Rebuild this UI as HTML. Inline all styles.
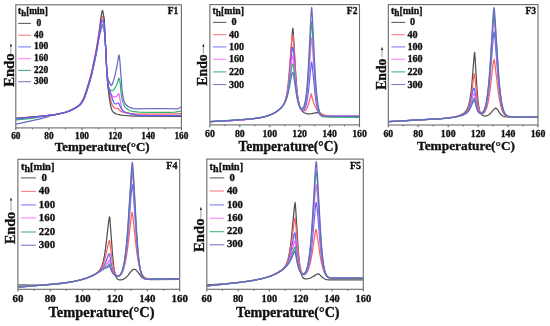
<!DOCTYPE html>
<html><head><meta charset="utf-8"><title>DSC curves F1-F5</title>
<style>html,body{margin:0;padding:0;background:#fff;width:550px;height:326px;overflow:hidden}
text{fill:#111;stroke:#111;stroke-width:0.34px}
svg{display:block}</style></head><body>
<svg width="550" height="326" viewBox="0 0 550 326">
<rect width="550" height="326" fill="#fff"/>
<clipPath id="cF1"><rect x="15.80" y="4.80" width="165.60" height="123.10"/></clipPath>
<g clip-path="url(#cF1)" fill="none" stroke-width="1.25" stroke-linejoin="round">
<path stroke="#6868c4" d="M16.1 124.23L39.10 119.03L42.85 118.07L48.60 116.30L51.60 115.48L55.60 114.55L62.85 113.06L66.35 112.13L70.10 110.75L72.10 109.85L74.35 108.68L76.60 107.40L78.35 106.25L79.60 105.31L80.60 104.33L81.60 103.07L82.85 101.09L84.10 98.72L84.85 97.00L87.10 90.29L90.60 78.81L92.35 71.98L94.35 62.87L96.85 50.30L98.35 41.08L99.10 37.36L101.35 28.29L101.85 26.91L102.35 26.23L102.60 26.26L102.85 26.56L103.35 27.56L103.60 28.43L104.35 31.87L104.85 35.27L105.10 37.90L105.60 46.17L106.35 64.04L106.60 68.11L107.35 75.05L107.85 77.93L108.35 80.03L109.10 81.92L110.85 85.09L111.35 85.50L111.60 85.40L112.10 84.52L113.10 81.88L114.60 76.81L115.35 73.87L117.10 65.46L118.60 56.23L118.85 55.21L119.10 55.12L119.35 56.28L119.85 60.64L121.85 87.71L122.10 90.62L122.60 94.71L123.35 98.71L124.10 101.29L125.10 103.46L125.60 104.20L126.60 105.35L127.85 106.41L129.60 107.28L133.10 108.40L134.35 108.68L135.35 108.79L158.35 108.50L177.10 108.90L177.85 108.78L178.60 108.52L181.10 107.16"/>
<path stroke="#34b270" d="M16.1 119.88L24.35 119.15L33.10 118.08L42.35 116.54L48.85 115.27L55.85 114.47L63.35 112.86L65.60 112.25L67.85 111.51L69.85 110.71L72.10 109.67L75.10 108.07L77.10 106.87L78.85 105.63L80.10 104.49L81.10 103.27L82.10 101.77L83.35 99.52L84.35 97.39L86.85 89.98L90.35 78.45L91.60 73.65L93.10 67.15L96.10 52.41L97.60 43.81L98.35 38.98L99.10 33.15L99.60 30.31L100.10 29.23L100.85 28.21L101.10 27.62L101.60 25.65L102.10 24.68L102.35 24.43L102.60 24.46L103.10 25.20L103.35 25.75L103.85 27.66L104.35 30.70L104.85 35.18L105.60 46.23L106.35 63.78L106.85 71.99L107.60 80.00L108.10 83.89L108.60 86.50L109.10 87.92L109.60 88.96L110.10 89.69L111.10 90.70L111.60 90.97L112.10 90.96L112.60 90.75L113.35 90.24L113.85 89.66L116.35 85.50L117.85 81.36L118.60 78.81L118.85 78.30L119.10 78.26L119.35 78.85L119.60 79.95L120.10 83.11L120.35 84.88L121.10 92.85L121.60 96.70L122.10 99.45L122.85 102.41L123.60 104.61L124.10 105.60L125.10 106.94L126.10 107.90L128.60 109.95L129.85 110.75L132.35 111.31L138.85 112.14L149.85 112.26L170.85 112.29L174.85 112.02L181.10 111.24"/>
<path stroke="#ff5eff" d="M16.1 118.48L36.60 116.72L45.35 115.82L54.60 114.61L61.85 113.13L64.35 112.51L66.85 111.74L68.85 110.99L71.35 109.87L74.10 108.43L76.60 106.97L78.60 105.55L79.85 104.39L80.85 103.14L82.10 101.18L83.35 98.82L84.10 97.13L86.85 88.86L89.10 81.57L90.35 77.17L91.60 72.19L92.85 66.69L95.85 51.89L97.10 44.75L98.85 32.81L99.35 30.00L99.85 28.23L100.85 25.48L101.60 22.74L102.10 21.78L102.35 21.53L102.60 21.56L102.85 21.86L103.35 22.84L103.60 23.65L104.10 26.37L104.35 28.83L105.10 38.43L105.60 46.44L106.60 66.80L107.35 79.72L107.60 82.68L108.10 85.81L109.10 89.51L110.10 92.30L111.35 94.85L111.85 95.55L112.60 96.24L113.10 96.56L113.60 96.72L115.10 96.89L115.85 96.83L116.35 96.54L117.35 95.63L118.35 93.85L118.60 93.62L118.85 93.72L119.35 95.50L120.85 104.21L121.60 107.89L122.10 109.61L122.85 110.71L123.35 111.24L124.10 111.84L124.85 112.24L126.10 112.68L135.85 114.85L138.85 115.33L144.60 115.51L181.10 116.09"/>
<path stroke="#ff6262" d="M16.1 118.48L36.85 116.70L45.60 115.79L54.60 114.61L62.10 113.07L64.85 112.37L67.35 111.56L69.60 110.67L71.85 109.62L74.85 108.01L76.85 106.80L78.85 105.35L80.10 104.10L81.10 102.78L82.10 101.18L83.35 98.82L84.10 97.13L86.10 91.23L88.35 84.04L90.85 75.26L93.10 65.52L96.10 50.57L97.35 43.18L100.10 25.02L100.85 20.60L101.60 17.63L102.10 16.68L102.35 16.43L102.60 16.46L102.85 16.76L103.35 17.74L103.60 18.54L104.10 21.19L104.35 23.57L104.60 27.00L105.10 39.49L105.85 50.94L106.60 66.80L107.35 79.08L107.85 85.06L108.35 88.62L108.85 91.25L111.60 103.27L112.35 105.18L113.35 106.73L114.35 107.71L115.85 108.50L116.35 108.60L117.60 108.32L118.10 108.41L119.60 110.31L120.85 111.22L122.10 111.88L123.35 112.30L125.10 112.71L129.85 113.38L134.85 113.86L138.10 114.07L150.35 114.18L165.60 114.15L181.10 113.61"/>
<path stroke="#505050" d="M16.1 118.48L36.60 116.72L45.10 115.84L55.10 114.58L62.35 113.10L65.10 112.40L67.60 111.60L69.85 110.71L72.35 109.55L75.35 107.92L77.35 106.70L79.35 105.22L80.60 103.92L81.60 102.56L82.60 100.92L83.85 98.51L84.60 96.73L86.60 90.77L89.35 81.91L90.85 76.61L92.10 71.56L94.10 62.38L96.10 52.41L97.10 46.88L99.10 34.49L99.60 30.85L100.60 19.63L101.60 13.56L102.10 11.16L102.35 10.47L102.60 10.56L103.10 12.52L103.60 15.68L104.10 18.09L104.35 20.00L104.85 34.50L105.85 50.94L106.60 66.80L107.35 78.37L108.35 89.92L109.10 96.50L110.10 103.00L111.35 108.55L111.85 109.99L112.60 111.29L113.35 112.16L114.60 113.11L115.60 113.62L117.35 114.24L119.10 114.70L121.10 115.06L124.10 115.46L127.10 115.74L133.85 116.07L144.35 116.22L181.10 116.30"/>
<path stroke="#6262ff" d="M16.1 118.78L36.35 116.85L42.35 116.15L49.35 115.07L55.60 114.56L62.60 113.11L65.10 112.48L67.60 111.70L69.60 110.94L72.10 109.82L75.10 108.23L77.35 106.90L79.35 105.47L80.60 104.27L81.60 102.99L82.85 101.00L84.10 98.62L84.85 96.87L86.60 91.70L88.85 84.53L91.35 75.85L93.60 66.23L96.85 50.03L98.60 39.36L100.85 24.08L101.60 21.03L102.10 20.08L102.35 19.83L102.60 19.86L102.85 20.16L103.35 21.17L104.35 25.15L104.60 27.00L105.10 39.49L105.85 50.94L106.60 66.80L107.35 79.13L107.85 84.66L108.35 87.29L109.10 89.79L110.85 93.77L112.85 100.38L113.60 102.00L114.35 103.16L115.10 103.75L115.85 104.00L116.35 103.88L118.10 103.05L118.35 103.00L118.60 103.11L118.85 103.49L120.60 107.41L121.85 109.62L122.60 110.48L124.10 111.56L125.85 112.41L128.10 113.21L129.85 113.67L133.60 114.43L136.60 114.90L139.10 115.15L150.85 115.51L166.10 115.58L181.10 115.31"/>
</g>
<rect x="15.80" y="4.80" width="165.60" height="123.10" fill="none" stroke="#6a6a6a" stroke-width="1.1"/>
<line x1="15.80" y1="127.90" x2="15.80" y2="130.20" stroke="#6a6a6a" stroke-width="1.1"/>
<line x1="32.36" y1="127.90" x2="32.36" y2="129.30" stroke="#6a6a6a" stroke-width="1.1"/>
<line x1="48.92" y1="127.90" x2="48.92" y2="130.20" stroke="#6a6a6a" stroke-width="1.1"/>
<line x1="65.48" y1="127.90" x2="65.48" y2="129.30" stroke="#6a6a6a" stroke-width="1.1"/>
<line x1="82.04" y1="127.90" x2="82.04" y2="130.20" stroke="#6a6a6a" stroke-width="1.1"/>
<line x1="98.60" y1="127.90" x2="98.60" y2="129.30" stroke="#6a6a6a" stroke-width="1.1"/>
<line x1="115.16" y1="127.90" x2="115.16" y2="130.20" stroke="#6a6a6a" stroke-width="1.1"/>
<line x1="131.72" y1="127.90" x2="131.72" y2="129.30" stroke="#6a6a6a" stroke-width="1.1"/>
<line x1="148.28" y1="127.90" x2="148.28" y2="130.20" stroke="#6a6a6a" stroke-width="1.1"/>
<line x1="164.84" y1="127.90" x2="164.84" y2="129.30" stroke="#6a6a6a" stroke-width="1.1"/>
<line x1="181.40" y1="127.90" x2="181.40" y2="130.20" stroke="#6a6a6a" stroke-width="1.1"/>
<line x1="18.20" y1="23.40" x2="31.00" y2="23.40" stroke="#606060" stroke-width="1.1"/>
<line x1="18.20" y1="35.20" x2="31.00" y2="35.20" stroke="#ff8080" stroke-width="1.1"/>
<line x1="18.20" y1="46.90" x2="31.00" y2="46.90" stroke="#8080ff" stroke-width="1.1"/>
<line x1="18.20" y1="58.70" x2="31.00" y2="58.70" stroke="#ff80ff" stroke-width="1.1"/>
<line x1="18.20" y1="70.40" x2="31.00" y2="70.40" stroke="#4cb47e" stroke-width="1.1"/>
<line x1="18.20" y1="81.70" x2="31.00" y2="81.70" stroke="#7c7cc8" stroke-width="1.1"/>
<line x1="10.90" y1="45.20" x2="10.90" y2="53.50" stroke="#888" stroke-width="0.8"/>
<path d="M10.90 43.20 L9.80 46.40 L12.00 46.40 Z" fill="#222"/>
<clipPath id="cF2"><rect x="209.90" y="4.60" width="149.60" height="120.30"/></clipPath>
<g clip-path="url(#cF2)" fill="none" stroke-width="1.25" stroke-linejoin="round">
<path stroke="#505050" d="M210.2 121.67L230.95 120.55L244.20 119.64L253.70 118.69L257.70 118.12L261.20 117.50L264.70 116.70L267.70 115.83L270.45 114.83L272.95 113.71L275.45 112.32L277.70 110.78L279.70 109.12L281.45 107.34L282.70 105.78L283.70 104.25L284.70 102.29L285.45 100.40L286.20 97.97L286.70 95.95L287.45 92.11L287.95 88.89L288.95 80.43L289.70 72.00L290.45 61.67L292.20 33.94L292.70 28.30L292.95 28.56L293.45 34.72L295.70 75.09L296.45 85.34L297.20 93.15L297.95 98.87L298.95 104.05L299.45 105.87L300.20 107.95L300.95 109.45L301.70 110.57L302.95 111.86L304.20 112.71L305.95 113.43L307.70 113.79L309.70 113.86L311.70 113.69L318.20 112.38L318.70 112.85L319.95 114.75L320.70 115.52L321.45 115.94L322.70 116.20L359.20 116.40"/>
<path stroke="#ff6262" d="M210.2 121.67L230.45 120.58L243.70 119.68L253.20 118.75L257.20 118.20L260.70 117.60L264.20 116.83L267.20 115.99L269.95 115.03L272.45 113.95L274.70 112.77L276.95 111.33L278.95 109.79L280.95 107.93L282.20 106.51L283.20 105.11L283.95 103.79L284.70 102.09L285.45 99.84L285.95 97.91L286.95 92.63L287.95 84.92L288.70 77.31L291.45 42.64L292.20 36.33L292.45 35.19L292.70 34.70L292.95 35.37L293.20 37.01L293.70 42.34L295.95 76.83L296.70 86.38L297.45 93.87L298.20 99.44L299.20 104.46L300.20 107.53L300.70 108.57L301.45 109.69L301.95 110.21L302.70 110.71L303.20 110.88L303.95 110.91L304.70 110.68L305.20 110.36L305.95 109.62L306.45 108.92L307.45 107.01L308.45 104.30L309.45 100.79L311.20 93.84L311.45 94.33L312.45 98.63L313.45 102.08L314.45 104.86L315.70 107.58L316.95 109.65L318.45 111.50L320.20 113.01L322.20 114.17L323.95 114.84L326.20 115.41L328.70 115.78L331.70 116.03L339.20 116.26L359.20 116.40"/>
<path stroke="#6262ff" d="M210.2 121.67L229.95 120.61L242.95 119.74L252.45 118.84L259.70 117.79L262.95 117.13L265.95 116.37L268.70 115.50L271.20 114.52L273.45 113.45L275.70 112.16L277.70 110.78L279.70 109.14L281.20 107.68L282.45 106.23L283.45 104.80L284.20 103.48L284.95 101.81L285.45 100.43L286.20 97.81L286.70 95.59L287.70 89.75L288.45 83.97L289.45 74.45L290.95 58.49L291.70 51.79L292.20 48.73L292.45 47.80L292.70 47.40L292.95 47.92L293.20 49.23L293.70 53.54L295.95 81.81L296.70 89.72L297.45 95.98L298.20 100.68L299.20 105.00L300.20 107.69L300.70 108.61L301.45 109.57L302.20 110.11L302.95 110.26L303.70 110.00L304.45 109.24L305.20 107.87L305.70 106.53L306.70 102.62L307.45 98.41L308.20 92.96L309.20 83.86L310.95 66.02L311.45 62.38L311.70 62.05L311.95 63.39L312.45 67.52L314.95 93.25L316.20 102.62L316.95 106.65L317.95 110.47L318.95 112.91L319.95 114.39L320.95 115.25L321.95 115.74L323.20 116.04L324.95 116.21L359.20 116.40"/>
<path stroke="#ff5eff" d="M210.2 121.67L229.45 120.64L242.20 119.80L251.45 118.95L258.70 117.96L261.95 117.35L264.70 116.70L267.45 115.91L269.95 115.03L272.20 114.07L274.45 112.91L276.45 111.67L278.45 110.20L279.95 108.91L281.45 107.41L282.70 105.93L283.70 104.48L284.45 103.14L285.20 101.48L285.95 99.34L286.45 97.57L287.45 92.95L288.45 86.64L289.45 78.64L290.95 65.29L291.70 59.69L292.20 57.12L292.45 56.34L292.70 56.00L292.95 56.42L293.20 57.50L293.70 61.11L296.20 87.52L296.95 93.84L297.95 100.14L298.95 104.36L299.45 105.85L300.20 107.51L300.95 108.60L301.70 109.22L302.45 109.40L303.20 109.10L303.95 108.23L304.45 107.27L304.95 105.93L305.45 104.14L306.45 98.93L307.20 93.28L307.95 85.92L308.70 76.79L310.95 43.93L311.45 38.64L311.70 38.16L311.95 40.07L312.45 46.02L314.95 83.11L316.20 96.62L316.95 102.44L317.95 107.94L318.95 111.45L319.95 113.58L320.95 114.82L321.95 115.51L323.20 115.95L324.95 116.19L328.95 116.28L359.20 116.40"/>
<path stroke="#34b270" d="M210.2 121.67L242.95 119.48L251.45 118.69L257.95 117.84L263.95 116.67L266.45 116.01L268.95 115.21L271.20 114.33L273.20 113.40L275.20 112.31L276.95 111.18L278.70 109.86L280.20 108.55L281.70 107.03L282.95 105.53L283.95 104.08L284.70 102.75L285.45 101.12L286.20 99.07L287.45 94.34L288.45 89.08L290.95 71.59L291.70 67.02L292.20 64.92L292.45 64.29L292.70 64.00L292.95 64.32L293.20 65.19L293.70 68.16L296.45 92.19L297.20 97.18L298.20 102.12L299.20 105.43L299.70 106.60L300.45 107.88L301.20 108.67L301.95 109.01L302.70 108.86L303.20 108.46L303.95 107.29L304.45 106.05L304.95 104.37L305.45 102.15L306.45 95.74L307.20 88.82L307.95 79.83L308.70 68.69L310.95 28.67L311.45 22.22L311.70 21.64L311.95 23.98L312.45 31.22L314.95 76.45L316.20 92.94L316.95 100.04L317.95 106.76L318.95 111.06L319.45 112.54L319.95 113.68L320.95 115.20L321.95 116.06L323.20 116.60L324.95 116.90L330.20 117.08L359.20 117.40"/>
<path stroke="#6868c4" d="M210.2 121.67L227.70 120.74L239.70 119.98L248.70 119.24L255.70 118.42L261.70 117.40L266.70 116.15L268.95 115.41L271.20 114.52L273.20 113.58L274.95 112.62L276.70 111.50L278.45 110.19L279.95 108.90L281.45 107.42L282.70 105.99L283.95 104.28L284.95 102.59L285.70 101.04L286.95 97.65L287.95 93.97L288.95 89.31L291.45 75.88L292.20 73.22L292.45 72.73L292.70 72.50L292.95 72.72L293.20 73.36L293.70 75.64L296.45 94.69L297.20 98.74L298.20 102.82L299.20 105.61L299.70 106.61L300.45 107.70L301.20 108.34L301.70 108.51L302.45 108.37L302.95 107.97L303.70 106.79L304.20 105.53L304.70 103.81L305.20 101.53L306.20 94.89L306.95 87.64L307.70 78.10L308.45 66.10L310.95 15.59L311.45 8.18L311.70 7.49L311.95 10.16L312.45 18.43L314.95 70.09L316.20 88.92L316.95 97.02L317.95 104.68L318.95 109.58L319.45 111.25L319.95 112.54L320.45 113.53L320.95 114.27L321.95 115.23L323.20 115.83L324.95 116.15L328.95 116.28L359.20 116.40"/>
</g>
<rect x="209.90" y="4.60" width="149.60" height="120.30" fill="none" stroke="#6a6a6a" stroke-width="1.1"/>
<line x1="209.90" y1="124.90" x2="209.90" y2="127.20" stroke="#6a6a6a" stroke-width="1.1"/>
<line x1="224.86" y1="124.90" x2="224.86" y2="126.30" stroke="#6a6a6a" stroke-width="1.1"/>
<line x1="239.82" y1="124.90" x2="239.82" y2="127.20" stroke="#6a6a6a" stroke-width="1.1"/>
<line x1="254.78" y1="124.90" x2="254.78" y2="126.30" stroke="#6a6a6a" stroke-width="1.1"/>
<line x1="269.74" y1="124.90" x2="269.74" y2="127.20" stroke="#6a6a6a" stroke-width="1.1"/>
<line x1="284.70" y1="124.90" x2="284.70" y2="126.30" stroke="#6a6a6a" stroke-width="1.1"/>
<line x1="299.66" y1="124.90" x2="299.66" y2="127.20" stroke="#6a6a6a" stroke-width="1.1"/>
<line x1="314.62" y1="124.90" x2="314.62" y2="126.30" stroke="#6a6a6a" stroke-width="1.1"/>
<line x1="329.58" y1="124.90" x2="329.58" y2="127.20" stroke="#6a6a6a" stroke-width="1.1"/>
<line x1="344.54" y1="124.90" x2="344.54" y2="126.30" stroke="#6a6a6a" stroke-width="1.1"/>
<line x1="359.50" y1="124.90" x2="359.50" y2="127.20" stroke="#6a6a6a" stroke-width="1.1"/>
<line x1="212.90" y1="22.40" x2="226.40" y2="22.40" stroke="#606060" stroke-width="1.1"/>
<line x1="212.90" y1="34.70" x2="226.40" y2="34.70" stroke="#ff8080" stroke-width="1.1"/>
<line x1="212.90" y1="46.90" x2="226.40" y2="46.90" stroke="#8080ff" stroke-width="1.1"/>
<line x1="212.90" y1="59.20" x2="226.40" y2="59.20" stroke="#ff80ff" stroke-width="1.1"/>
<line x1="212.90" y1="71.90" x2="226.40" y2="71.90" stroke="#4cb47e" stroke-width="1.1"/>
<line x1="212.90" y1="84.50" x2="226.40" y2="84.50" stroke="#7c7cc8" stroke-width="1.1"/>
<line x1="203.40" y1="45.60" x2="203.40" y2="53.50" stroke="#888" stroke-width="0.8"/>
<path d="M203.40 43.60 L202.30 46.80 L204.50 46.80 Z" fill="#222"/>
<clipPath id="cF3"><rect x="388.30" y="4.60" width="149.70" height="120.40"/></clipPath>
<g clip-path="url(#cF3)" fill="none" stroke-width="1.25" stroke-linejoin="round">
<path stroke="#505050" d="M388.6 121.65L433.85 119.06L441.60 118.51L447.35 117.95L453.35 117.07L455.60 116.60L457.85 116.00L459.60 115.41L461.35 114.67L462.85 113.84L464.10 112.94L465.10 112.00L466.10 110.77L466.85 109.58L467.60 108.04L468.35 106.05L468.85 104.39L469.60 101.24L470.10 98.58L471.10 91.56L471.85 84.45L473.85 59.23L474.35 53.94L474.60 52.30L475.10 57.84L476.85 87.43L477.35 94.12L478.10 101.78L478.85 106.99L479.60 110.38L480.10 111.92L480.60 113.06L481.10 113.89L481.60 114.50L482.10 114.96L482.85 115.44L484.35 115.92L485.35 116.01L486.10 115.95L487.60 115.54L488.85 114.83L489.85 114.01L491.10 112.67L493.85 109.33L494.85 108.48L495.60 108.19L495.85 108.20L496.35 108.44L497.10 109.18L499.85 113.24L501.35 114.99L502.10 115.60L502.85 116.05L503.60 116.37L504.60 116.64L506.35 116.85L509.10 116.93L537.60 116.98"/>
<path stroke="#ff6262" d="M388.6 121.65L433.60 119.09L440.60 118.62L446.10 118.14L451.85 117.42L456.60 116.51L460.35 115.40L461.85 114.80L463.35 114.04L464.60 113.23L465.60 112.39L466.35 111.58L467.10 110.56L467.85 109.24L468.35 108.13L469.35 105.17L470.35 100.87L471.10 96.54L471.85 91.19L473.60 77.09L474.10 74.30L474.35 73.69L474.60 74.18L474.85 76.22L477.10 98.85L477.85 104.20L478.60 108.01L479.10 109.82L479.60 111.17L480.10 112.15L480.60 112.84L481.10 113.30L481.85 113.64L482.60 113.65L483.35 113.38L484.10 112.80L484.85 111.90L485.60 110.59L486.10 109.47L486.85 107.32L487.35 105.54L488.35 101.03L489.10 96.72L490.10 89.68L493.10 63.83L493.60 60.63L493.85 59.55L494.10 59.37L494.60 61.70L495.10 65.20L497.85 88.80L498.85 96.04L499.60 100.58L500.60 105.44L501.60 109.07L502.60 111.70L503.10 112.70L503.85 113.89L504.85 115.01L506.10 115.89L507.60 116.46L509.60 116.79L514.60 116.96L537.60 116.99"/>
<path stroke="#6262ff" d="M388.6 121.65L433.10 119.14L444.60 118.33L450.35 117.71L454.85 117.00L458.60 116.15L461.85 115.09L464.35 113.89L466.10 112.61L467.35 111.17L468.10 109.93L468.60 108.88L469.60 106.06L470.35 103.21L472.60 91.90L473.10 89.76L473.60 88.35L473.85 88.12L474.10 88.24L474.60 89.23L476.60 103.01L477.35 106.84L477.85 108.79L478.35 110.30L478.85 111.44L479.35 112.26L479.85 112.83L480.35 113.19L480.85 113.39L481.60 113.43L482.35 113.18L482.85 112.85L483.60 112.09L484.35 110.94L485.10 109.30L485.85 107.08L486.60 104.12L487.10 101.68L488.10 95.44L489.10 87.18L490.10 76.75L493.10 38.54L493.60 33.82L493.85 32.21L494.10 31.96L494.60 35.39L495.10 40.56L497.85 75.41L498.85 86.10L499.60 92.79L500.60 99.97L501.60 105.34L502.60 109.22L503.10 110.70L503.85 112.45L504.85 114.11L506.10 115.40L506.85 115.90L507.60 116.24L509.60 116.73L511.60 116.90L514.35 116.96L537.60 116.99"/>
<path stroke="#ff5eff" d="M388.6 121.66L432.85 119.16L443.60 118.43L449.10 117.89L453.60 117.26L457.35 116.53L460.60 115.64L463.35 114.59L465.60 113.33L467.10 112.02L468.35 110.33L469.35 108.31L470.10 106.28L471.10 102.83L472.85 95.99L473.35 94.54L473.60 94.04L473.85 93.79L474.10 93.80L474.60 94.33L476.60 105.30L477.35 108.29L478.35 111.00L478.85 111.89L479.35 112.52L479.85 112.95L480.35 113.21L480.85 113.32L481.60 113.24L482.35 112.87L482.85 112.45L483.60 111.52L484.35 110.14L485.10 108.23L485.85 105.63L486.60 102.19L487.10 99.35L488.10 92.13L489.10 82.57L490.10 70.50L493.10 26.31L493.60 20.85L493.85 18.99L494.10 18.70L494.60 22.66L495.10 28.64L497.85 68.93L498.85 81.29L499.60 89.03L500.60 97.33L501.60 103.54L502.60 108.02L503.10 109.73L503.85 111.76L504.85 113.68L505.35 114.37L506.10 115.17L506.85 115.74L507.60 116.14L508.60 116.49L509.60 116.70L511.60 116.89L514.35 116.97L537.60 116.99"/>
<path stroke="#34b270" d="M388.6 121.66L432.60 119.18L442.60 118.52L447.85 118.05L452.35 117.49L456.10 116.85L459.35 116.09L462.35 115.13L464.85 114.01L466.60 112.87L468.10 111.39L469.10 109.93L469.85 108.49L470.85 106.05L473.10 99.59L473.60 98.63L473.85 98.37L474.10 98.28L474.60 98.45L475.85 104.22L476.60 107.18L477.35 109.51L478.35 111.63L478.85 112.32L479.35 112.82L479.85 113.15L480.60 113.38L481.35 113.32L481.85 113.14L482.85 112.35L483.60 111.35L484.35 109.89L485.10 107.86L485.85 105.12L486.60 101.50L487.10 98.52L488.10 90.93L489.10 80.88L490.10 68.21L493.10 21.81L493.60 16.07L493.85 14.12L494.10 13.81L494.60 17.97L495.10 24.25L497.85 66.54L498.85 79.52L499.60 87.65L500.60 96.36L501.60 102.88L502.60 107.58L503.10 109.38L503.85 111.51L504.85 113.52L505.35 114.25L506.10 115.09L506.85 115.69L507.60 116.10L508.60 116.47L509.60 116.69L511.60 116.90L514.35 116.97L537.60 117.00"/>
<path stroke="#6868c4" d="M388.6 121.66L432.60 119.19L442.10 118.57L447.35 118.11L451.60 117.61L455.35 117.01L458.60 116.31L461.60 115.44L464.35 114.34L466.35 113.21L467.85 111.96L469.10 110.42L470.10 108.73L473.35 101.22L473.85 100.56L474.35 100.39L474.60 100.41L475.85 105.50L476.85 108.79L477.60 110.60L478.35 111.88L478.85 112.48L479.35 112.91L479.85 113.19L480.35 113.33L481.10 113.31L481.60 113.15L482.60 112.43L483.35 111.49L484.10 110.10L484.85 108.16L485.60 105.51L486.35 102.01L486.85 99.10L488.10 89.41L489.10 78.76L490.10 65.34L493.10 16.20L493.60 10.12L493.85 8.06L494.10 7.73L494.60 12.14L495.10 18.79L497.85 63.57L498.85 77.31L499.60 85.92L500.60 95.14L501.60 102.05L502.60 107.03L503.10 108.93L503.85 111.19L504.85 113.32L505.35 114.09L506.10 114.98L506.85 115.61L507.60 116.06L508.60 116.44L509.60 116.68L511.60 116.89L514.35 116.97L537.60 117.00"/>
</g>
<rect x="388.30" y="4.60" width="149.70" height="120.40" fill="none" stroke="#6a6a6a" stroke-width="1.1"/>
<line x1="388.30" y1="125.00" x2="388.30" y2="127.30" stroke="#6a6a6a" stroke-width="1.1"/>
<line x1="403.27" y1="125.00" x2="403.27" y2="126.40" stroke="#6a6a6a" stroke-width="1.1"/>
<line x1="418.24" y1="125.00" x2="418.24" y2="127.30" stroke="#6a6a6a" stroke-width="1.1"/>
<line x1="433.21" y1="125.00" x2="433.21" y2="126.40" stroke="#6a6a6a" stroke-width="1.1"/>
<line x1="448.18" y1="125.00" x2="448.18" y2="127.30" stroke="#6a6a6a" stroke-width="1.1"/>
<line x1="463.15" y1="125.00" x2="463.15" y2="126.40" stroke="#6a6a6a" stroke-width="1.1"/>
<line x1="478.12" y1="125.00" x2="478.12" y2="127.30" stroke="#6a6a6a" stroke-width="1.1"/>
<line x1="493.09" y1="125.00" x2="493.09" y2="126.40" stroke="#6a6a6a" stroke-width="1.1"/>
<line x1="508.06" y1="125.00" x2="508.06" y2="127.30" stroke="#6a6a6a" stroke-width="1.1"/>
<line x1="523.03" y1="125.00" x2="523.03" y2="126.40" stroke="#6a6a6a" stroke-width="1.1"/>
<line x1="538.00" y1="125.00" x2="538.00" y2="127.30" stroke="#6a6a6a" stroke-width="1.1"/>
<line x1="391.40" y1="22.40" x2="405.20" y2="22.40" stroke="#606060" stroke-width="1.1"/>
<line x1="391.40" y1="34.70" x2="405.20" y2="34.70" stroke="#ff8080" stroke-width="1.1"/>
<line x1="391.40" y1="46.90" x2="405.20" y2="46.90" stroke="#8080ff" stroke-width="1.1"/>
<line x1="391.40" y1="59.20" x2="405.20" y2="59.20" stroke="#ff80ff" stroke-width="1.1"/>
<line x1="391.40" y1="71.90" x2="405.20" y2="71.90" stroke="#4cb47e" stroke-width="1.1"/>
<line x1="391.40" y1="84.50" x2="405.20" y2="84.50" stroke="#7c7cc8" stroke-width="1.1"/>
<line x1="382.00" y1="48.70" x2="382.00" y2="57.50" stroke="#888" stroke-width="0.8"/>
<path d="M382.00 46.70 L380.90 49.90 L383.10 49.90 Z" fill="#222"/>
<clipPath id="cF4"><rect x="17.90" y="159.30" width="161.80" height="130.00"/></clipPath>
<g clip-path="url(#cF4)" fill="none" stroke-width="1.25" stroke-linejoin="round">
<path stroke="#505050" d="M18.2 284.92L31.70 285.15L39.45 285.08L44.70 284.92L49.95 284.62L55.45 284.16L60.95 283.54L66.20 282.82L71.45 281.93L76.20 280.97L80.70 279.88L84.70 278.70L88.45 277.35L91.70 275.93L94.70 274.34L96.95 272.85L98.20 271.80L99.20 270.76L100.20 269.42L100.95 268.12L102.20 265.15L103.45 260.68L104.45 255.64L105.45 249.05L106.45 240.94L108.45 222.98L108.95 219.33L109.45 216.79L109.70 217.19L109.95 219.65L112.45 253.28L113.20 261.48L113.70 265.87L114.45 270.94L114.95 273.42L115.45 275.30L115.95 276.71L116.45 277.74L116.95 278.48L117.45 279.00L117.95 279.36L118.70 279.69L119.45 279.86L120.45 279.91L121.45 279.81L122.45 279.59L124.20 278.85L125.70 277.80L126.95 276.59L128.20 275.11L130.70 271.85L131.95 270.47L133.20 269.55L133.95 269.29L134.45 269.26L134.95 269.35L135.45 269.57L135.95 269.92L136.70 270.65L137.70 271.90L140.20 275.39L141.95 277.33L142.70 277.94L143.70 278.54L145.45 279.16L147.20 279.42L149.70 279.50L179.20 279.30"/>
<path stroke="#ff6262" d="M18.2 287.16L54.95 283.95L62.95 283.08L69.45 282.17L76.45 280.86L82.45 279.33L85.20 278.48L87.95 277.49L90.45 276.46L92.95 275.28L96.45 273.24L97.70 272.34L98.95 271.27L99.95 270.22L100.95 268.93L101.70 267.72L102.45 266.27L103.70 263.12L104.70 259.83L105.95 254.68L108.45 243.04L108.95 241.30L109.20 240.68L109.45 240.40L109.70 241.12L111.70 256.71L112.45 261.89L113.20 266.18L114.20 270.41L115.20 273.17L115.70 274.10L116.45 275.05L117.20 275.59L117.95 275.80L118.70 275.74L119.70 275.27L120.70 274.37L121.45 273.39L122.20 272.09L122.95 270.44L123.70 268.38L124.45 265.83L125.70 260.34L126.95 253.01L127.95 245.73L131.20 217.24L131.95 212.54L132.20 212.37L132.70 215.39L133.20 219.57L135.95 245.51L136.95 253.32L137.70 258.28L138.70 263.71L139.95 268.83L141.20 272.42L141.95 273.99L142.70 275.23L143.95 276.70L144.70 277.31L145.45 277.77L147.20 278.44L149.45 278.81L151.70 278.93L154.70 278.96L179.20 278.68"/>
<path stroke="#6262ff" d="M18.2 287.17L53.20 284.13L59.95 283.45L65.70 282.74L71.95 281.78L77.45 280.67L82.70 279.31L87.45 277.75L91.70 276.00L95.70 273.92L98.95 271.78L100.20 270.77L101.45 269.56L102.95 267.69L104.45 265.10L105.70 262.24L108.45 254.83L108.95 253.94L109.45 253.71L109.70 254.36L110.95 261.91L111.95 266.82L112.95 270.51L113.95 273.09L114.70 274.42L115.45 275.36L116.20 275.98L116.95 276.35L117.70 276.51L118.70 276.39L119.45 276.05L120.20 275.47L121.20 274.24L121.95 272.89L122.70 271.08L123.45 268.70L124.70 263.18L125.95 255.18L126.95 246.63L127.70 238.87L128.70 226.83L131.20 193.44L131.70 188.18L132.20 184.68L132.45 184.79L132.70 186.28L133.45 194.19L136.20 235.33L137.20 247.99L137.95 255.74L138.70 261.98L139.70 268.21L140.70 272.47L141.20 274.01L141.95 275.75L142.95 277.27L143.95 278.17L144.70 278.58L145.45 278.84L147.20 279.11L150.45 279.15L179.20 278.70"/>
<path stroke="#ff5eff" d="M18.2 287.17L51.95 284.24L62.95 283.10L68.70 282.31L73.95 281.41L78.70 280.38L82.95 279.24L87.70 277.67L91.95 275.90L95.70 273.95L99.20 271.71L101.70 269.74L103.95 267.53L105.70 265.38L108.70 261.06L109.45 260.19L109.70 260.56L110.70 265.19L111.70 268.80L112.70 271.52L113.95 273.88L114.70 274.86L115.45 275.57L116.20 276.05L116.95 276.32L117.70 276.40L118.45 276.28L119.20 275.94L119.95 275.35L120.95 274.10L121.70 272.73L122.45 270.88L123.20 268.44L123.95 265.30L124.70 261.31L125.95 252.37L126.95 242.83L127.70 234.17L128.70 220.73L131.20 183.49L131.70 177.62L132.20 173.72L132.45 173.84L132.70 175.50L133.45 184.32L136.20 230.23L137.20 244.36L137.95 253.00L138.70 259.97L139.70 266.92L140.70 271.67L141.20 273.39L141.95 275.34L142.95 277.04L143.95 278.05L144.70 278.50L145.45 278.79L147.20 279.09L150.45 279.16L179.20 278.70"/>
<path stroke="#34b270" d="M18.2 287.17L51.20 284.31L61.20 283.30L66.70 282.60L71.45 281.86L75.95 281.00L79.95 280.07L84.20 278.86L88.20 277.48L91.95 275.90L95.20 274.25L97.45 272.92L99.45 271.60L106.95 266.16L108.45 264.90L109.45 263.62L109.70 263.84L110.70 267.67L111.70 270.44L112.95 272.90L114.20 274.59L114.95 275.31L115.70 275.83L116.45 276.17L117.20 276.33L117.95 276.30L118.70 276.07L119.45 275.62L119.95 275.16L120.95 273.83L121.70 272.36L122.45 270.40L123.20 267.82L123.95 264.49L124.70 260.27L125.95 250.82L126.95 240.72L127.70 231.57L128.70 217.35L131.20 177.97L131.70 171.76L132.20 167.64L132.45 167.76L132.70 169.52L133.45 178.85L136.20 227.40L137.20 242.34L137.95 251.48L138.70 258.86L139.70 266.21L140.70 271.23L141.20 273.05L141.95 275.11L142.95 276.91L143.95 277.98L144.70 278.46L145.45 278.77L147.20 279.09L150.45 279.16L179.20 278.70"/>
<path stroke="#6868c4" d="M18.2 287.17L50.70 284.35L59.95 283.44L65.20 282.81L69.95 282.11L74.20 281.36L78.20 280.50L82.20 279.46L85.95 278.29L89.20 277.09L92.45 275.67L94.70 274.53L96.95 273.24L103.70 268.88L104.95 268.29L107.45 267.47L108.20 267.10L108.95 266.43L109.45 265.62L109.70 265.75L110.70 269.12L111.70 271.39L112.95 273.37L114.45 275.00L115.20 275.57L115.95 275.98L116.70 276.22L117.45 276.29L118.20 276.16L118.70 275.97L119.45 275.47L119.95 274.99L120.95 273.58L121.70 272.05L122.45 269.99L123.20 267.28L123.95 263.80L124.70 259.38L125.95 249.49L126.95 238.92L127.70 229.34L128.70 214.47L131.20 173.26L131.70 166.76L132.20 162.45L132.45 162.59L132.70 164.43L133.45 174.19L136.20 224.99L137.20 240.62L137.95 250.19L138.70 257.90L139.70 265.60L140.70 270.86L141.20 272.76L141.95 274.92L142.95 276.80L143.95 277.92L144.70 278.42L145.45 278.74L147.20 279.08L150.45 279.16L179.20 278.70"/>
</g>
<rect x="17.90" y="159.30" width="161.80" height="130.00" fill="none" stroke="#6a6a6a" stroke-width="1.1"/>
<line x1="17.90" y1="289.30" x2="17.90" y2="291.60" stroke="#6a6a6a" stroke-width="1.1"/>
<line x1="34.08" y1="289.30" x2="34.08" y2="290.70" stroke="#6a6a6a" stroke-width="1.1"/>
<line x1="50.26" y1="289.30" x2="50.26" y2="291.60" stroke="#6a6a6a" stroke-width="1.1"/>
<line x1="66.44" y1="289.30" x2="66.44" y2="290.70" stroke="#6a6a6a" stroke-width="1.1"/>
<line x1="82.62" y1="289.30" x2="82.62" y2="291.60" stroke="#6a6a6a" stroke-width="1.1"/>
<line x1="98.80" y1="289.30" x2="98.80" y2="290.70" stroke="#6a6a6a" stroke-width="1.1"/>
<line x1="114.98" y1="289.30" x2="114.98" y2="291.60" stroke="#6a6a6a" stroke-width="1.1"/>
<line x1="131.16" y1="289.30" x2="131.16" y2="290.70" stroke="#6a6a6a" stroke-width="1.1"/>
<line x1="147.34" y1="289.30" x2="147.34" y2="291.60" stroke="#6a6a6a" stroke-width="1.1"/>
<line x1="163.52" y1="289.30" x2="163.52" y2="290.70" stroke="#6a6a6a" stroke-width="1.1"/>
<line x1="179.70" y1="289.30" x2="179.70" y2="291.60" stroke="#6a6a6a" stroke-width="1.1"/>
<line x1="20.90" y1="177.90" x2="35.90" y2="177.90" stroke="#606060" stroke-width="1.1"/>
<line x1="20.90" y1="191.40" x2="35.90" y2="191.40" stroke="#ff8080" stroke-width="1.1"/>
<line x1="20.90" y1="204.90" x2="35.90" y2="204.90" stroke="#8080ff" stroke-width="1.1"/>
<line x1="20.90" y1="217.90" x2="35.90" y2="217.90" stroke="#ff80ff" stroke-width="1.1"/>
<line x1="20.90" y1="232.00" x2="35.90" y2="232.00" stroke="#4cb47e" stroke-width="1.1"/>
<line x1="20.90" y1="245.20" x2="35.90" y2="245.20" stroke="#7c7cc8" stroke-width="1.1"/>
<line x1="11.00" y1="199.40" x2="11.00" y2="210.50" stroke="#888" stroke-width="0.8"/>
<path d="M11.00 197.40 L9.90 200.60 L12.10 200.60 Z" fill="#222"/>
<clipPath id="cF5"><rect x="206.80" y="159.10" width="156.50" height="130.20"/></clipPath>
<g clip-path="url(#cF5)" fill="none" stroke-width="1.25" stroke-linejoin="round">
<path stroke="#505050" d="M207.1 284.86L224.10 283.79L236.85 282.68L242.85 281.98L248.35 281.23L253.60 280.38L258.35 279.46L262.35 278.54L266.10 277.52L269.35 276.45L272.60 275.19L275.60 273.79L278.35 272.27L280.85 270.61L282.85 268.95L284.10 267.64L285.10 266.30L286.10 264.57L286.85 262.88L288.10 258.99L289.35 253.15L290.35 246.63L291.10 240.52L292.10 230.83L294.10 209.57L294.60 205.33L295.10 202.49L295.35 204.68L295.85 211.25L298.10 247.74L298.85 257.33L299.35 262.46L300.10 268.37L300.85 272.43L301.35 274.34L301.85 275.75L302.35 276.78L302.85 277.52L303.85 278.41L305.10 278.88L306.60 278.97L308.35 278.71L309.85 278.24L311.35 277.56L316.60 274.37L317.60 273.99L318.35 273.91L318.85 274.08L319.60 274.59L322.35 277.36L323.85 278.56L325.35 279.29L327.10 279.69L328.85 279.83L331.60 279.88L362.85 279.90"/>
<path stroke="#ff6262" d="M207.1 285.83L241.60 282.10L250.60 280.84L258.10 279.48L261.85 278.63L265.35 277.70L268.60 276.69L271.60 275.59L274.35 274.40L276.85 273.15L279.35 271.67L281.35 270.27L282.60 269.24L283.85 268.00L284.85 266.79L285.85 265.27L286.60 263.84L287.35 262.08L288.60 258.12L289.60 253.79L290.60 248.21L291.60 241.38L294.10 222.24L294.60 219.41L294.85 218.40L295.10 217.93L295.85 225.36L297.85 249.06L299.10 260.49L299.85 265.37L300.85 269.82L301.35 271.33L301.85 272.46L302.35 273.28L302.85 273.84L303.60 274.28L304.10 274.36L304.60 274.29L305.60 273.74L306.35 272.98L307.10 271.89L307.85 270.45L308.60 268.61L309.35 266.32L310.35 262.46L311.35 257.61L312.60 250.14L315.10 233.10L315.85 229.45L316.10 229.30L316.60 231.58L317.10 234.73L319.85 254.07L320.85 259.82L321.60 263.44L322.60 267.38L323.85 271.04L325.10 273.58L325.85 274.68L326.60 275.54L327.85 276.54L329.35 277.27L331.10 277.73L333.35 277.99L338.60 278.12L362.85 278.08"/>
<path stroke="#6262ff" d="M207.1 285.84L240.35 282.27L248.85 281.13L256.10 279.90L263.10 278.35L266.10 277.52L269.10 276.57L271.85 275.55L274.35 274.48L276.60 273.37L278.85 272.11L282.10 269.89L283.35 268.86L284.60 267.64L285.60 266.46L286.60 264.99L287.35 263.62L288.10 261.94L289.35 258.26L290.35 254.32L291.35 249.44L293.85 235.62L294.35 233.64L294.60 233.00L294.85 232.87L295.10 233.05L296.85 249.84L297.85 258.15L298.60 263.13L299.60 268.06L300.10 269.88L300.85 271.92L301.35 272.91L302.10 273.95L302.85 274.54L303.60 274.78L304.35 274.69L305.10 274.28L305.85 273.53L306.60 272.37L307.35 270.75L307.85 269.36L308.60 266.73L309.10 264.57L310.35 257.50L311.10 251.98L311.85 245.44L312.85 235.24L315.10 210.01L315.60 205.53L316.10 202.54L316.35 202.61L316.60 203.81L317.35 210.14L320.10 243.12L321.10 253.26L321.85 259.46L322.60 264.46L323.60 269.44L324.60 272.84L325.10 274.07L325.85 275.46L326.85 276.68L327.85 277.39L329.35 277.93L331.10 278.16L334.35 278.22L362.85 278.09"/>
<path stroke="#ff5eff" d="M207.1 285.84L239.10 282.41L247.10 281.38L253.85 280.31L260.35 279.01L266.35 277.45L271.60 275.65L276.10 273.64L278.10 272.57L280.10 271.35L281.85 270.14L283.35 268.95L284.60 267.81L285.85 266.45L286.85 265.11L287.60 263.90L288.85 261.36L290.10 257.96L291.35 253.57L293.85 243.40L294.35 241.85L294.60 241.30L294.85 241.08L295.10 241.05L296.60 253.17L297.85 261.58L298.60 265.48L299.60 269.35L300.10 270.78L300.85 272.39L301.35 273.17L302.10 273.96L302.60 274.26L303.35 274.44L304.10 274.29L304.85 273.79L305.60 272.92L306.35 271.60L307.10 269.75L307.85 267.26L308.60 263.99L309.10 261.31L310.10 254.56L311.10 245.73L311.85 237.64L312.85 225.05L315.10 193.91L315.60 188.38L316.10 184.70L316.35 184.79L316.60 186.26L317.35 194.08L320.10 234.82L321.10 247.34L321.85 255.01L322.60 261.19L323.60 267.35L324.60 271.55L325.10 273.07L325.85 274.79L326.85 276.30L327.85 277.19L328.60 277.59L329.35 277.85L331.10 278.14L334.60 278.23L362.85 278.10"/>
<path stroke="#34b270" d="M207.1 285.84L238.10 282.53L245.60 281.59L252.10 280.61L258.60 279.39L264.35 278.02L269.35 276.49L273.85 274.72L278.10 272.58L280.10 271.37L281.85 270.18L283.35 269.02L284.85 267.70L286.10 266.41L287.10 265.19L288.60 262.90L289.85 260.41L291.35 256.60L294.10 248.47L294.60 247.40L295.10 246.94L296.35 255.73L297.35 261.63L298.35 266.25L299.35 269.62L299.85 270.89L300.60 272.35L301.10 273.06L301.85 273.79L302.60 274.17L303.35 274.22L304.10 273.93L304.85 273.29L305.60 272.24L306.35 270.70L307.10 268.56L307.85 265.69L308.60 261.94L309.10 258.87L310.10 251.14L311.10 241.05L311.85 231.81L312.85 217.42L315.10 181.86L315.60 175.55L316.10 171.34L316.35 171.44L316.60 173.13L317.35 182.07L320.10 228.60L321.10 242.92L321.85 251.68L322.60 258.74L323.60 265.78L324.60 270.58L325.10 272.32L325.85 274.29L326.85 276.01L327.85 277.03L328.60 277.50L329.35 277.79L331.10 278.12L334.60 278.23L362.85 278.10"/>
<path stroke="#6868c4" d="M207.1 285.83L237.60 282.58L244.85 281.69L250.85 280.81L257.10 279.70L262.60 278.47L267.60 277.07L271.85 275.56L276.10 273.66L280.10 271.38L281.85 270.20L283.60 268.87L285.10 267.57L286.35 266.33L288.10 264.25L289.85 261.55L291.35 258.63L294.10 252.43L294.60 251.50L295.10 250.89L296.10 257.31L297.10 262.60L298.10 266.72L298.60 268.36L299.35 270.37L299.85 271.42L300.60 272.63L301.10 273.22L301.85 273.82L302.60 274.09L303.35 274.05L304.10 273.68L304.60 273.23L305.35 272.20L306.10 270.69L306.85 268.57L307.60 265.71L308.35 261.95L308.85 258.86L310.10 248.70L311.10 237.69L311.85 227.63L312.85 211.96L315.10 173.22L315.60 166.35L316.10 161.77L316.35 161.88L316.60 163.72L317.35 173.46L320.10 224.15L321.10 239.75L321.85 249.29L322.60 256.98L323.60 264.65L324.60 269.89L325.10 271.79L325.85 273.93L326.85 275.81L327.85 276.92L328.60 277.43L329.35 277.75L331.10 278.11L334.60 278.23L362.85 278.10"/>
</g>
<rect x="206.80" y="159.10" width="156.50" height="130.20" fill="none" stroke="#6a6a6a" stroke-width="1.1"/>
<line x1="206.80" y1="289.30" x2="206.80" y2="291.60" stroke="#6a6a6a" stroke-width="1.1"/>
<line x1="222.45" y1="289.30" x2="222.45" y2="290.70" stroke="#6a6a6a" stroke-width="1.1"/>
<line x1="238.10" y1="289.30" x2="238.10" y2="291.60" stroke="#6a6a6a" stroke-width="1.1"/>
<line x1="253.75" y1="289.30" x2="253.75" y2="290.70" stroke="#6a6a6a" stroke-width="1.1"/>
<line x1="269.40" y1="289.30" x2="269.40" y2="291.60" stroke="#6a6a6a" stroke-width="1.1"/>
<line x1="285.05" y1="289.30" x2="285.05" y2="290.70" stroke="#6a6a6a" stroke-width="1.1"/>
<line x1="300.70" y1="289.30" x2="300.70" y2="291.60" stroke="#6a6a6a" stroke-width="1.1"/>
<line x1="316.35" y1="289.30" x2="316.35" y2="290.70" stroke="#6a6a6a" stroke-width="1.1"/>
<line x1="332.00" y1="289.30" x2="332.00" y2="291.60" stroke="#6a6a6a" stroke-width="1.1"/>
<line x1="347.65" y1="289.30" x2="347.65" y2="290.70" stroke="#6a6a6a" stroke-width="1.1"/>
<line x1="363.30" y1="289.30" x2="363.30" y2="291.60" stroke="#6a6a6a" stroke-width="1.1"/>
<line x1="209.60" y1="177.90" x2="224.20" y2="177.90" stroke="#606060" stroke-width="1.1"/>
<line x1="209.60" y1="191.00" x2="224.20" y2="191.00" stroke="#ff8080" stroke-width="1.1"/>
<line x1="209.60" y1="204.90" x2="224.20" y2="204.90" stroke="#8080ff" stroke-width="1.1"/>
<line x1="209.60" y1="218.20" x2="224.20" y2="218.20" stroke="#ff80ff" stroke-width="1.1"/>
<line x1="209.60" y1="231.70" x2="224.20" y2="231.70" stroke="#4cb47e" stroke-width="1.1"/>
<line x1="209.60" y1="244.80" x2="224.20" y2="244.80" stroke="#7c7cc8" stroke-width="1.1"/>
<line x1="200.90" y1="208.70" x2="200.90" y2="218.00" stroke="#888" stroke-width="0.8"/>
<path d="M200.90 206.70 L199.80 209.90 L202.00 209.90 Z" fill="#222"/>
<text x="15.80" y="139.30" font-size="9.30" font-family='"Liberation Serif", serif' font-weight="bold" text-anchor="middle">60</text>
<text x="48.92" y="139.30" font-size="9.30" font-family='"Liberation Serif", serif' font-weight="bold" text-anchor="middle">80</text>
<text x="82.04" y="139.30" font-size="9.30" font-family='"Liberation Serif", serif' font-weight="bold" text-anchor="middle">100</text>
<text x="115.16" y="139.30" font-size="9.30" font-family='"Liberation Serif", serif' font-weight="bold" text-anchor="middle">120</text>
<text x="148.28" y="139.30" font-size="9.30" font-family='"Liberation Serif", serif' font-weight="bold" text-anchor="middle">140</text>
<text x="181.40" y="139.30" font-size="9.30" font-family='"Liberation Serif", serif' font-weight="bold" text-anchor="middle">160</text>
<text x="102.20" y="151.20" font-size="12.90" font-family='"Liberation Serif", serif' font-weight="bold" text-anchor="middle">Temperature(°C)</text>
<text x="178.30" y="14.00" font-size="9.50" font-family='"Liberation Serif", serif' font-weight="bold" text-anchor="end">F1</text>
<text x="18.10" y="13.60" font-size="9.30" font-family='"Liberation Serif", serif' font-weight="bold">t<tspan font-size="8.84" dy="2.05">h</tspan><tspan dy="-2.05">[min]</tspan></text>
<text x="36.38" y="25.77" font-size="9.50" font-family='"Liberation Serif", serif' font-weight="bold" text-anchor="start">0</text>
<text x="34.00" y="37.58" font-size="9.50" font-family='"Liberation Serif", serif' font-weight="bold" text-anchor="start">40</text>
<text x="34.00" y="49.27" font-size="9.50" font-family='"Liberation Serif", serif' font-weight="bold" text-anchor="start">100</text>
<text x="34.00" y="61.08" font-size="9.50" font-family='"Liberation Serif", serif' font-weight="bold" text-anchor="start">160</text>
<text x="34.00" y="72.78" font-size="9.50" font-family='"Liberation Serif", serif' font-weight="bold" text-anchor="start">220</text>
<text x="34.00" y="84.08" font-size="9.50" font-family='"Liberation Serif", serif' font-weight="bold" text-anchor="start">300</text>
<text x="14.50" y="70.20" font-size="14.60" font-family='"Liberation Serif", serif' font-weight="bold" text-anchor="middle" transform="rotate(-90 14.50 70.20)">Endo</text>
<text x="209.90" y="136.90" font-size="9.80" font-family='"Liberation Serif", serif' font-weight="bold" text-anchor="middle">60</text>
<text x="239.82" y="136.90" font-size="9.80" font-family='"Liberation Serif", serif' font-weight="bold" text-anchor="middle">80</text>
<text x="269.74" y="136.90" font-size="9.80" font-family='"Liberation Serif", serif' font-weight="bold" text-anchor="middle">100</text>
<text x="299.66" y="136.90" font-size="9.80" font-family='"Liberation Serif", serif' font-weight="bold" text-anchor="middle">120</text>
<text x="329.58" y="136.90" font-size="9.80" font-family='"Liberation Serif", serif' font-weight="bold" text-anchor="middle">140</text>
<text x="359.50" y="136.90" font-size="9.80" font-family='"Liberation Serif", serif' font-weight="bold" text-anchor="middle">160</text>
<text x="288.20" y="150.80" font-size="13.55" font-family='"Liberation Serif", serif' font-weight="bold" text-anchor="middle">Temperature(°C)</text>
<text x="357.40" y="13.80" font-size="9.50" font-family='"Liberation Serif", serif' font-weight="bold" text-anchor="end">F2</text>
<text x="212.60" y="14.30" font-size="9.80" font-family='"Liberation Serif", serif' font-weight="bold">t<tspan font-size="9.31" dy="2.16">h</tspan><tspan dy="-2.16">[min]</tspan></text>
<text x="231.45" y="25.45" font-size="10.20" font-family='"Liberation Serif", serif' font-weight="bold" text-anchor="start">0</text>
<text x="228.90" y="37.75" font-size="10.20" font-family='"Liberation Serif", serif' font-weight="bold" text-anchor="start">40</text>
<text x="228.90" y="49.95" font-size="10.20" font-family='"Liberation Serif", serif' font-weight="bold" text-anchor="start">100</text>
<text x="228.90" y="62.25" font-size="10.20" font-family='"Liberation Serif", serif' font-weight="bold" text-anchor="start">160</text>
<text x="228.90" y="74.95" font-size="10.20" font-family='"Liberation Serif", serif' font-weight="bold" text-anchor="start">220</text>
<text x="228.90" y="87.55" font-size="10.20" font-family='"Liberation Serif", serif' font-weight="bold" text-anchor="start">300</text>
<text x="207.20" y="70.00" font-size="13.80" font-family='"Liberation Serif", serif' font-weight="bold" text-anchor="middle" transform="rotate(-90 207.20 70.00)">Endo</text>
<text x="388.30" y="136.70" font-size="9.80" font-family='"Liberation Serif", serif' font-weight="bold" text-anchor="middle">60</text>
<text x="418.24" y="136.70" font-size="9.80" font-family='"Liberation Serif", serif' font-weight="bold" text-anchor="middle">80</text>
<text x="448.18" y="136.70" font-size="9.80" font-family='"Liberation Serif", serif' font-weight="bold" text-anchor="middle">100</text>
<text x="478.12" y="136.70" font-size="9.80" font-family='"Liberation Serif", serif' font-weight="bold" text-anchor="middle">120</text>
<text x="508.06" y="136.70" font-size="9.80" font-family='"Liberation Serif", serif' font-weight="bold" text-anchor="middle">140</text>
<text x="538.00" y="136.70" font-size="9.80" font-family='"Liberation Serif", serif' font-weight="bold" text-anchor="middle">160</text>
<text x="466.00" y="150.40" font-size="13.35" font-family='"Liberation Serif", serif' font-weight="bold" text-anchor="middle">Temperature(°C)</text>
<text x="536.00" y="13.80" font-size="9.50" font-family='"Liberation Serif", serif' font-weight="bold" text-anchor="end">F3</text>
<text x="391.10" y="14.30" font-size="9.80" font-family='"Liberation Serif", serif' font-weight="bold">t<tspan font-size="9.31" dy="2.16">h</tspan><tspan dy="-2.16">[min]</tspan></text>
<text x="409.95" y="25.45" font-size="10.20" font-family='"Liberation Serif", serif' font-weight="bold" text-anchor="start">0</text>
<text x="407.40" y="37.75" font-size="10.20" font-family='"Liberation Serif", serif' font-weight="bold" text-anchor="start">40</text>
<text x="407.40" y="49.95" font-size="10.20" font-family='"Liberation Serif", serif' font-weight="bold" text-anchor="start">100</text>
<text x="407.40" y="62.25" font-size="10.20" font-family='"Liberation Serif", serif' font-weight="bold" text-anchor="start">160</text>
<text x="407.40" y="74.95" font-size="10.20" font-family='"Liberation Serif", serif' font-weight="bold" text-anchor="start">220</text>
<text x="407.40" y="87.55" font-size="10.20" font-family='"Liberation Serif", serif' font-weight="bold" text-anchor="start">300</text>
<text x="385.70" y="74.20" font-size="13.60" font-family='"Liberation Serif", serif' font-weight="bold" text-anchor="middle" transform="rotate(-90 385.70 74.20)">Endo</text>
<text x="17.90" y="302.30" font-size="10.90" font-family='"Liberation Serif", serif' font-weight="bold" text-anchor="middle">60</text>
<text x="50.26" y="302.30" font-size="10.90" font-family='"Liberation Serif", serif' font-weight="bold" text-anchor="middle">80</text>
<text x="82.62" y="302.30" font-size="10.90" font-family='"Liberation Serif", serif' font-weight="bold" text-anchor="middle">100</text>
<text x="114.98" y="302.30" font-size="10.90" font-family='"Liberation Serif", serif' font-weight="bold" text-anchor="middle">120</text>
<text x="147.34" y="302.30" font-size="10.90" font-family='"Liberation Serif", serif' font-weight="bold" text-anchor="middle">140</text>
<text x="179.70" y="302.30" font-size="10.90" font-family='"Liberation Serif", serif' font-weight="bold" text-anchor="middle">160</text>
<text x="101.50" y="317.30" font-size="14.45" font-family='"Liberation Serif", serif' font-weight="bold" text-anchor="middle">Temperature(°C)</text>
<text x="177.40" y="168.90" font-size="10.00" font-family='"Liberation Serif", serif' font-weight="bold" text-anchor="end">F4</text>
<text x="20.90" y="169.60" font-size="10.50" font-family='"Liberation Serif", serif' font-weight="bold">t<tspan font-size="9.97" dy="2.31">h</tspan><tspan dy="-2.31">[min]</tspan></text>
<text x="41.52" y="180.62" font-size="10.90" font-family='"Liberation Serif", serif' font-weight="bold" text-anchor="start">0</text>
<text x="38.80" y="194.12" font-size="10.90" font-family='"Liberation Serif", serif' font-weight="bold" text-anchor="start">40</text>
<text x="38.80" y="207.62" font-size="10.90" font-family='"Liberation Serif", serif' font-weight="bold" text-anchor="start">100</text>
<text x="38.80" y="220.62" font-size="10.90" font-family='"Liberation Serif", serif' font-weight="bold" text-anchor="start">160</text>
<text x="38.80" y="234.72" font-size="10.90" font-family='"Liberation Serif", serif' font-weight="bold" text-anchor="start">220</text>
<text x="38.80" y="247.92" font-size="10.90" font-family='"Liberation Serif", serif' font-weight="bold" text-anchor="start">300</text>
<text x="14.50" y="228.00" font-size="14.10" font-family='"Liberation Serif", serif' font-weight="bold" text-anchor="middle" transform="rotate(-90 14.50 228.00)">Endo</text>
<text x="206.80" y="302.10" font-size="10.40" font-family='"Liberation Serif", serif' font-weight="bold" text-anchor="middle">60</text>
<text x="238.10" y="302.10" font-size="10.40" font-family='"Liberation Serif", serif' font-weight="bold" text-anchor="middle">80</text>
<text x="269.40" y="302.10" font-size="10.40" font-family='"Liberation Serif", serif' font-weight="bold" text-anchor="middle">100</text>
<text x="300.70" y="302.10" font-size="10.40" font-family='"Liberation Serif", serif' font-weight="bold" text-anchor="middle">120</text>
<text x="332.00" y="302.10" font-size="10.40" font-family='"Liberation Serif", serif' font-weight="bold" text-anchor="middle">140</text>
<text x="363.30" y="302.10" font-size="10.40" font-family='"Liberation Serif", serif' font-weight="bold" text-anchor="middle">160</text>
<text x="287.80" y="317.30" font-size="14.10" font-family='"Liberation Serif", serif' font-weight="bold" text-anchor="middle">Temperature(°C)</text>
<text x="361.00" y="168.90" font-size="10.00" font-family='"Liberation Serif", serif' font-weight="bold" text-anchor="end">F5</text>
<text x="209.60" y="169.60" font-size="10.50" font-family='"Liberation Serif", serif' font-weight="bold">t<tspan font-size="9.97" dy="2.31">h</tspan><tspan dy="-2.31">[min]</tspan></text>
<text x="229.58" y="180.58" font-size="10.70" font-family='"Liberation Serif", serif' font-weight="bold" text-anchor="start">0</text>
<text x="226.90" y="193.68" font-size="10.70" font-family='"Liberation Serif", serif' font-weight="bold" text-anchor="start">40</text>
<text x="226.90" y="207.58" font-size="10.70" font-family='"Liberation Serif", serif' font-weight="bold" text-anchor="start">100</text>
<text x="226.90" y="220.88" font-size="10.70" font-family='"Liberation Serif", serif' font-weight="bold" text-anchor="start">160</text>
<text x="226.90" y="234.38" font-size="10.70" font-family='"Liberation Serif", serif' font-weight="bold" text-anchor="start">220</text>
<text x="226.90" y="247.48" font-size="10.70" font-family='"Liberation Serif", serif' font-weight="bold" text-anchor="start">300</text>
<text x="204.20" y="235.20" font-size="14.80" font-family='"Liberation Serif", serif' font-weight="bold" text-anchor="middle" transform="rotate(-90 204.20 235.20)">Endo</text>
</svg>
</body></html>
